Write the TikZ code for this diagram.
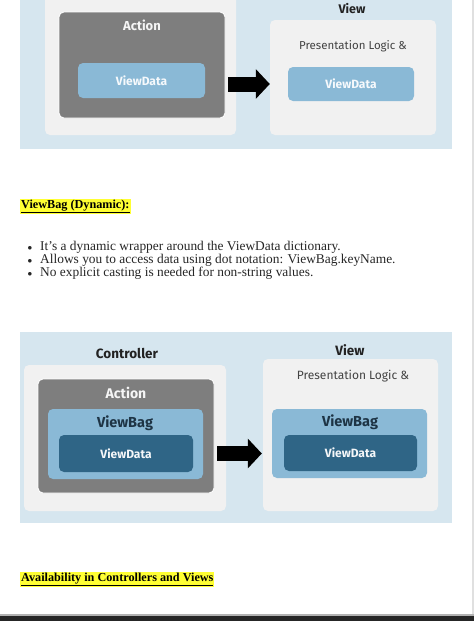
\documentclass[tikz,border=0pt]{standalone}
\usepackage{fontspec}
\setmainfont{Liberation Serif}
\newfontfamily\diagfont{Fira Sans}
\usetikzlibrary{arrows.meta,calc}
\definecolor{bgblue}{HTML}{D6E6EF}
\definecolor{panel}{HTML}{F1F1F1}
\definecolor{actgray}{HTML}{7E7E7E}
\definecolor{lblue}{HTML}{8AB9D6}
\definecolor{dblue}{HTML}{2F6586}
\definecolor{titletext}{HTML}{222222}
\definecolor{bagtext}{HTML}{1E3445}
\definecolor{hl}{HTML}{FFFF33}
\tikzset{
  rbox/.style={rectangle, rounded corners=5pt, inner sep=0pt, draw=none},
  bgbox/.style={rectangle, inner sep=0pt, fill=bgblue, draw=none},
  panelbox/.style={rbox, fill=panel},
  actbox/.style={rbox, fill=actgray, draw=white, line width=0.8pt},
  lbox/.style={rbox, fill=lblue},
  dbox/.style={rbox, fill=dblue},
  dtitle/.style={font=\diagfont\bfseries\fontsize{12.5}{14}\selectfont, text=titletext, inner sep=0pt},
  wtitle/.style={font=\diagfont\bfseries\fontsize{13}{15}\selectfont, text=white!92!gray, inner sep=0pt},
  ptext/.style={font=\diagfont\fontsize{11.5}{13}\selectfont, text=titletext!85, inner sep=0pt},
  vdtext/.style={font=\diagfont\bfseries\fontsize{12}{14}\selectfont, text=white!92!lblue, inner sep=0pt},
  bagtitle/.style={font=\diagfont\bfseries\fontsize{14.5}{16}\selectfont, text=bagtext, inner sep=0pt},
  bigarrow/.style={draw=black, line width=15pt, -{Triangle[length=14pt,width=29pt]}},
  heading/.style={fill=hl, inner sep=1pt, font=\fontsize{12.2}{14}\selectfont\bfseries, text=black},
  bodytext/.style={font=\fontsize{13.4}{15}\selectfont, text=black!85, inner sep=0pt, anchor=base west},
  bulletmark/.style={font=\fontsize{9.5}{12}\selectfont, text=black!85, inner sep=0pt, anchor=base}
}
\begin{document}
\begin{tikzpicture}[x=1pt,y=-1pt]
\useasboundingbox (0,0) rectangle (474,621);
\fill[white] (0,0) rectangle (474,621);
\clip (0,0) rectangle (474,621);

% ---------- top diagram ----------
\node[bgbox, minimum width=432pt, minimum height=154pt] (bg1) at (236,72) {};
\node[panelbox, minimum width=191pt, minimum height=140pt] (lp1) at (140.5,65) {};
\node[actbox, minimum width=166pt, minimum height=106pt] (act1) at (142,65) {};
\node[wtitle] (act1t) at (142,25) {Action};
\node[lbox, minimum width=127pt, minimum height=35pt] (vd1) at (141.5,80.5) {};
\node[vdtext] (vd1t) at (vd1) {ViewData};
\node[panelbox, minimum width=166pt, minimum height=115pt] (rp1) at (353,77.5) {};
\node[dtitle] (view1) at (352,9) {View};
\node[ptext] (pl1) at (353,46) {Presentation Logic \&};
\node[lbox, minimum width=126pt, minimum height=34pt] (vd1r) at (351,84) {};
\node[vdtext] (vd1rt) at (vd1r) {ViewData};
\draw[bigarrow, shorten <=3pt] (act1.east |- vd1r.center) -- (rp1.west |- vd1r.center);

% ---------- text ----------
\node[heading, anchor=base west] (h1) at (20,208) {\underline{ViewBag (Dynamic):}};
\node[bulletmark] (b1) at (30,250) {$\bullet$};
\node[bodytext] (t1) at (40,250) {It's a dynamic wrapper around the ViewData dictionary.};
\node[bulletmark] (b2) at (30,263) {$\bullet$};
\node[bodytext] (t2) at (40,263) {Allows you to access data using dot notation: ViewBag.keyName.};
\node[bulletmark] (b3) at (30,276.5) {$\bullet$};
\node[bodytext] (t3) at (40,276.5) {No explicit casting is needed for non-string values.};

% ---------- second diagram ----------
\node[bgbox, minimum width=432pt, minimum height=191pt] (bg2) at (236,427.5) {};
\node[dtitle, font=\diagfont\bfseries\fontsize{13.5}{15}\selectfont] (ctrl) at (127,353) {Controller};
\node[panelbox, minimum width=202pt, minimum height=146pt] (lp2) at (125,438) {};
\node[actbox, minimum width=176pt, minimum height=114pt] (act2) at (126,436) {};
\node[wtitle, font=\diagfont\bfseries\fontsize{14}{16}\selectfont] (act2t) at (126,393) {Action};
\node[lbox, minimum width=155pt, minimum height=70pt] (vb2) at (125.5,444) {};
\node[bagtitle] (vb2t) at (125,423) {ViewBag};
\node[dbox, minimum width=134pt, minimum height=37pt] (vd2) at (126,453.5) {};
\node[vdtext, text=white!95!dblue] (vd2t) at (vd2) {ViewData};
\node[panelbox, minimum width=175pt, minimum height=152pt] (rp2) at (350.5,435) {};
\node[dtitle, font=\diagfont\bfseries\fontsize{13.5}{15}\selectfont] (view2) at (350,350) {View};
\node[ptext, font=\diagfont\fontsize{12}{14}\selectfont] (pl2) at (353,376) {Presentation Logic \&};
\node[lbox, minimum width=155pt, minimum height=69pt] (vb2r) at (349.5,443.5) {};
\node[bagtitle] (vb2rt) at (350,422) {ViewBag};
\node[dbox, minimum width=133pt, minimum height=36pt] (vd2r) at (350.5,453) {};
\node[vdtext, text=white!95!dblue] (vd2rt) at (vd2r) {ViewData};
\draw[bigarrow, shorten <=3pt, shorten >=1pt] (act2.east |- vd2.center) -- (rp2.west |- vd2.center);

% ---------- bottom ----------
\node[heading, anchor=base west] (h2) at (20,581) {\underline{Availability in Controllers and Views}};
\fill[black!12] (471.5,0) rectangle (474,614);
\fill[black!30] (0,613.5) rectangle (474,615.5);
\fill[black!85] (0,615.5) rectangle (474,621);
\end{tikzpicture}
\end{document}
